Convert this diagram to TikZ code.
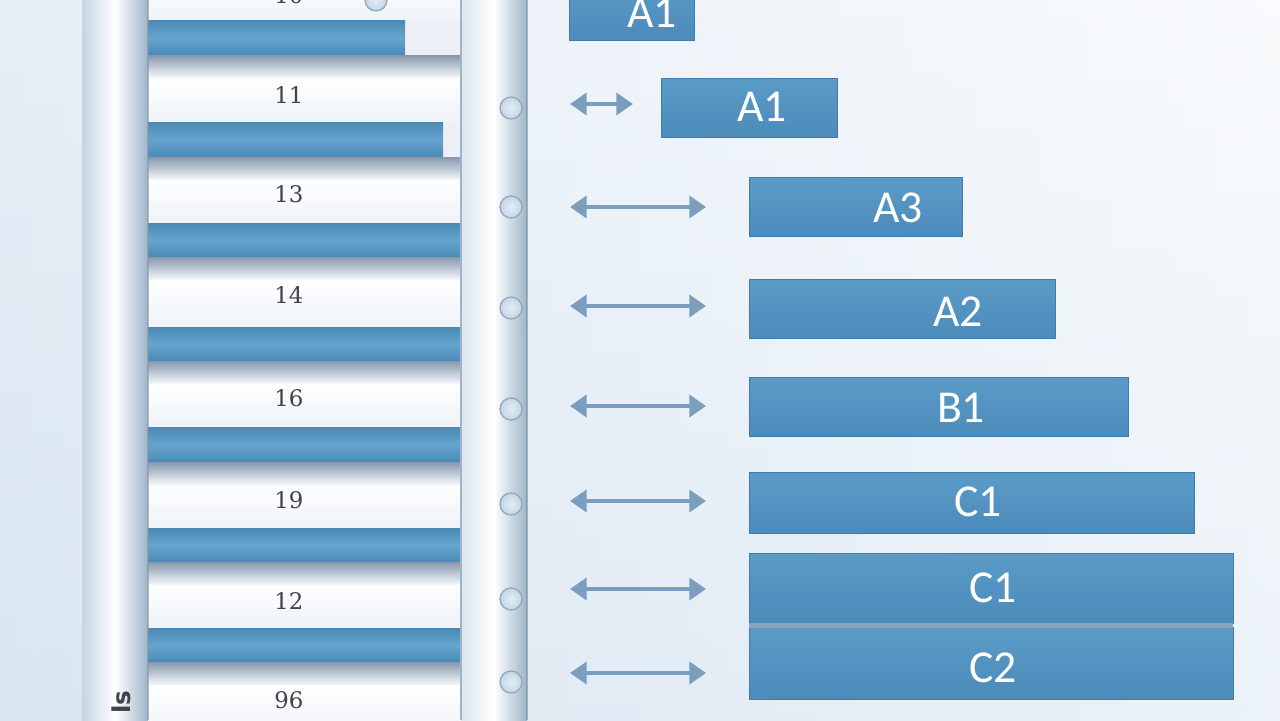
\documentclass[tikz,border=0pt]{standalone}
\usepackage{fontspec}
\setmainfont{Carlito}
\newfontfamily\numfont{DejaVu Serif}
\newfontfamily\lblfont{DejaVu Sans}
\usetikzlibrary{arrows.meta}
\definecolor{bgL}{HTML}{D9E6F2}
\definecolor{bgR}{HTML}{F6F9FC}
\definecolor{panel}{HTML}{E8EEF5}
\definecolor{shadowc}{HTML}{8798AD}
\definecolor{barTop}{HTML}{4A88B7}
\definecolor{barMid}{HTML}{67A5CE}
\definecolor{barBot}{HTML}{4B89B7}
\definecolor{boxTop}{HTML}{5B9BC7}
\definecolor{boxBot}{HTML}{4C8BBA}
\definecolor{boxEdge}{HTML}{3F7CAA}
\definecolor{arrowc}{HTML}{7B9DBE}
\definecolor{numgray}{HTML}{3E434A}
\definecolor{railL}{HTML}{C6D4E2}
\definecolor{railR}{HTML}{9FB3C8}
\definecolor{bubFill}{HTML}{C4D5E6}
\definecolor{bubEdge}{HTML}{8EA5BC}
\definecolor{sepc}{HTML}{8CA2B8}
\begin{document}
\begin{tikzpicture}[x=0.02cm,y=-0.02cm,
  bluebox/.style={rectangle, draw=boxEdge, line width=0.5pt, top color=boxTop, bottom color=boxBot, inner sep=0pt},
  boxlbl/.style={text=white, font=\fontsize{26}{26}\selectfont, inner sep=0pt},
  numlbl/.style={text=numgray, font=\numfont\fontsize{13}{13}\selectfont, inner sep=0pt},
  bubble/.style={circle, minimum size=0.44cm, inner sep=0pt, inner color=bubFill!45!white, outer color=bubFill, draw=bubEdge, line width=0.7pt},
  dblarrow/.style={{Triangle[width=12.5pt,length=9.5pt]}-{Triangle[width=12.5pt,length=9.5pt]}, line width=2.3pt, draw=arrowc}
]
\useasboundingbox (0,0) rectangle (1280,720);
\clip (0,0) rectangle (1280,720);
% background
\shade[left color=bgL, right color=bgR] (0,0) rectangle (1280,720);
\shade[top color=white, bottom color=bgL, opacity=0.35] (0,0) rectangle (1280,720);

% ladder panel
\fill[panel] (148,0) rectangle (461,720);
% white panels
\foreach \a/\b in {-20/20, 75/122, 175/223, 277/327, 378/427, 478/528, 578/628, 680/740}{
  \shade[top color=white, bottom color=panel!70!white] (148,\a) rectangle (461,\b);
}
% bars and shadows
\foreach \t/\b/\r in {20/55/405, 122/157/443, 223/257/461, 327/361/461, 427/462/461, 528/562/461, 628/662/461}{
  \fill[panel!80!white] (148,\t) rectangle (461,\b);
  \shade[top color=barTop, bottom color=barBot, middle color=barMid] (148,\t) rectangle (\r,\b);
  \shade[top color=shadowc, bottom color=panel!60!white] (148,\b) rectangle (461,\b+22);
}
% rails
\shade[left color=railL, right color=railR, middle color=white] (82,0) rectangle (148,720);
\draw[railR!80!black, line width=0.6pt, opacity=0.5] (148,0) -- (148,720);
\shade[left color=railL!60!white, right color=railR, middle color=white] (461,0) rectangle (527,720);
\draw[railR, line width=0.6pt] (461,0) -- (461,720);
\draw[railR!80!black, line width=0.8pt, opacity=0.6] (527,0) -- (527,720);

% numbers
\node[numlbl] (n10) at (289,-5) {10};
\node[numlbl] (n11) at (289,95) {11};
\node[numlbl] (n13) at (289,194) {13};
\node[numlbl] (n14) at (289,295) {14};
\node[numlbl] (n16) at (289,398) {16};
\node[numlbl] (n19) at (289,500) {19};
\node[numlbl] (n12) at (289,601) {12};
\node[numlbl] (n96) at (289,700) {96};
\node[text=numgray, font=\lblfont\bfseries\fontsize{14}{14}\selectfont, rotate=90, inner sep=0pt] (ls) at (121,702) {ls};

% bubbles
\node[bubble] (c0) at (376,0) {};
\node[bubble] (c1) at (511,108) {};
\node[bubble] (c2) at (511,207) {};
\node[bubble] (c3) at (511,308) {};
\node[bubble] (c4) at (511,409) {};
\node[bubble] (c5) at (511,504) {};
\node[bubble] (c6) at (511,599) {};
\node[bubble] (c7) at (511,682) {};

% boxes
\node[bluebox, minimum width=2.5cm, minimum height=1.2cm] (bA1t) at (631.5,10) {};
\node[bluebox, minimum width=3.52cm, minimum height=1.18cm] (bA1) at (749,107.5) {};
\node[bluebox, minimum width=4.26cm, minimum height=1.18cm] (bA3) at (855.5,206.5) {};
\node[bluebox, minimum width=6.12cm, minimum height=1.18cm] (bA2) at (902,308.5) {};
\node[bluebox, minimum width=7.58cm, minimum height=1.18cm] (bB1) at (938.5,406.5) {};
\node[bluebox, minimum width=8.9cm, minimum height=1.22cm] (bC1) at (971.5,502.5) {};
\node[bluebox, minimum width=9.68cm, minimum height=1.4cm] (bC1b) at (991,588) {};
\node[bluebox, minimum width=9.68cm, minimum height=1.44cm] (bC2) at (991,663) {};
\fill[sepc] (bC1b.south west) rectangle ([yshift=-0.1cm]bC1b.south east);

% box labels
\node[boxlbl] (tA1t) at (652,13) {A1};
\node[boxlbl] (tA1) at (762,107) {A1};
\node[boxlbl] (tA3) at (898,208) {A3};
\node[boxlbl] (tA2) at (958,312) {A2};
\node[boxlbl] (tB1) at (961,408) {B1};
\node[boxlbl] (tC1) at (978,502) {C1};
\node[boxlbl] (tC1b) at (993,588) {C1};
\node[boxlbl] (tC2) at (993,668) {C2};

% double arrows
\coordinate (l1) at (570,104); \coordinate (r1) at (633,104);
\coordinate (l2) at (570,207); \coordinate (r2) at (706,207);
\coordinate (l3) at (570,306); \coordinate (r3) at (706,306);
\coordinate (l4) at (570,406); \coordinate (r4) at (706,406);
\coordinate (l5) at (570,501); \coordinate (r5) at (706,501);
\coordinate (l6) at (570,589); \coordinate (r6) at (706,589);
\coordinate (l7) at (570,673); \coordinate (r7) at (706,673);
\foreach \i in {1,...,7}{ \draw[dblarrow] (l\i) -- (r\i); }
\end{tikzpicture}
\end{document}
